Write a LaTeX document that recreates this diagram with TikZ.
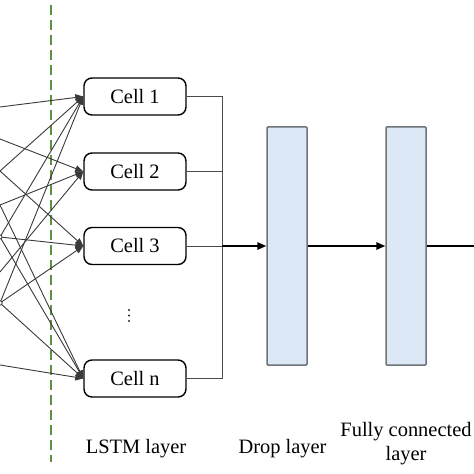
\documentclass[tikz,border=0pt]{standalone}
\usepackage{fontspec}
\setmainfont{Liberation Serif}
\usetikzlibrary{arrows.meta}
\definecolor{fanc}{HTML}{3A3A3A}
\definecolor{busc}{HTML}{4A4A4A}
\definecolor{dashg}{HTML}{5E9140}
\definecolor{rectfill}{HTML}{DCE8F5}
\definecolor{rectdraw}{HTML}{6E747A}
\tikzset{
  cellbox/.style={draw=black, line width=1.4bp, rounded corners=8bp, minimum width=102bp, minimum height=37bp, inner sep=0pt, font=\fontsize{20.5}{24}\selectfont},
  layerbox/.style={draw=rectdraw, fill=rectfill, line width=1.5bp, rounded corners=1bp, minimum width=40bp, minimum height=238bp, inner sep=0pt},
  fan/.style={draw=fanc, line width=0.9bp, -{Triangle[length=8bp,width=6.5bp]}},
  busline/.style={draw=busc, line width=1bp},
  flow/.style={draw=black, line width=1.5bp, -{Triangle[length=9bp,width=7.5bp]}},
  flowplain/.style={draw=black, line width=1.5bp},
  dashline/.style={draw=dashg, line width=1.3bp, dash pattern=on 10bp off 5bp},
  dotmark/.style={circle, fill=black!85, inner sep=0pt, minimum size=2.3bp},
  lab/.style={font=\fontsize{20.5}{24}\selectfont, inner sep=0pt, align=center}
}
\begin{document}
\begin{tikzpicture}[x=1bp,y=-1bp]
\useasboundingbox (0,0) rectangle (474,474);
\clip (0,0) rectangle (474,474);
% dashed separator
\coordinate (dtop) at (51,5);
\coordinate (dbot) at (51,462);
\draw[dashline] (dtop) -- (dbot);
% cells
\node[cellbox] (c1) at (135,96.5) {Cell 1};
\node[cellbox] (c2) at (135,171.5) {Cell 2};
\node[cellbox] (c3) at (135,246) {Cell 3};
\node[cellbox] (cn) at (135,378.5) {Cell n};
\node[dotmark] (d1) at (129,310) {};
\node[dotmark] (d2) at (129,315.5) {};
\node[dotmark] (d3) at (129,321) {};
% fan sources at the left edge
\coordinate (s1) at (0,107);
\coordinate (s2) at (0,139);
\coordinate (s3) at (0,171);
\coordinate (s4) at (0,205);
\coordinate (s5) at (0,237);
\coordinate (s6) at (0,272);
\coordinate (s7) at (0,303);
\coordinate (s8) at (0,365);
\draw[fan] (s1) -- (c1.west);
\draw[fan] (s3) -- (c1.west);
\draw[fan] (s5) -- (c1.west);
\draw[fan] (s7) -- (c1.west);
\draw[fan] (s2) -- (c2.west);
\draw[fan] (s4) -- (c2.west);
\draw[fan] (s6) -- (c2.west);
\draw[fan] (s3) -- (c3.west);
\draw[fan] (s5) -- (c3.west);
\draw[fan] (s7) -- (c3.west);
\draw[fan] (s4) -- (cn.west);
\draw[fan] (s5) -- (cn.west);
\draw[fan] (s7) -- (cn.west);
\draw[fan] (s8) -- (cn.west);
\draw[fanc, line width=0.8bp, fill=white] (s5) circle (2bp);
\draw[fanc, line width=0.8bp, fill=white] (s7) circle (2.2bp);
% bus
\coordinate (bx) at (222,246);
\draw[busline] (c1.east) -| (bx);
\draw[busline] (c2.east) -| (bx);
\draw[busline] (cn.east) -| (bx);
\draw[busline] (c3.east) -- (bx);
% layers
\node[layerbox] (drop) at (287,246) {};
\node[layerbox] (fc) at (406,246) {};
\coordinate (out) at (480,246);
\draw[flow] (bx) -- (drop.west);
\draw[flow] (drop.east) -- (fc.west);
\draw[flowplain] (fc.east) -- (out);
% labels
\node[lab, anchor=base] (l1) at (136,453.5) {LSTM layer};
\node[lab, anchor=base] (l2) at (282.5,453.5) {Drop layer};
\node[lab] (l3) at (406,444) {Fully connected\\layer};
\end{tikzpicture}
\end{document}
